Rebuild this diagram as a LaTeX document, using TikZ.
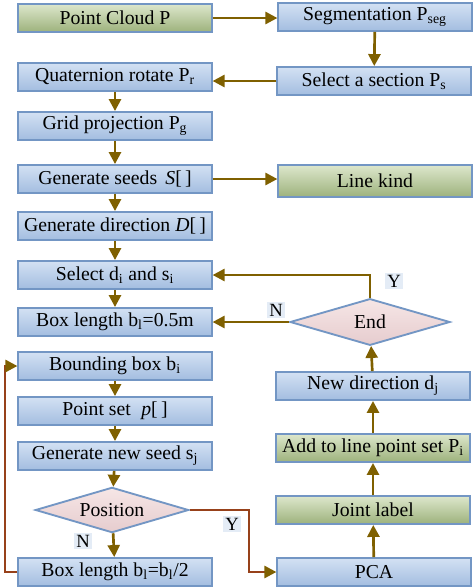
\documentclass[tikz,border=0pt]{standalone}
\usepackage{xcolor}
\usepackage{tikz}
\usetikzlibrary{arrows.meta,shapes.geometric}
\usepackage{fontspec}
\setmainfont{Liberation Serif}
\definecolor{edgeblu}{HTML}{7396C4}
\definecolor{boxtop}{HTML}{D3E1F3}
\definecolor{boxbot}{HTML}{A3BDE0}
\definecolor{grntop}{HTML}{DDE7CC}
\definecolor{grnbot}{HTML}{9DB27C}
\definecolor{pinktop}{HTML}{F6E6E6}
\definecolor{pinkbot}{HTML}{E6CCCE}
\definecolor{olive}{HTML}{7F6000}
\definecolor{rust}{HTML}{97411A}
\definecolor{tagblu}{HTML}{E4ECF6}

\tikzset{
  box/.style={draw=edgeblu, line width=1.4pt, top color=boxtop, bottom color=boxbot,
    minimum width=145pt, minimum height=21pt, inner sep=1pt,
    font=\fontsize{14.8}{16}\selectfont},
  grnbox/.style={box, top color=grntop, bottom color=grnbot},
  decide/.style={diamond, draw=edgeblu, line width=1.4pt, top color=pinktop, bottom color=pinkbot,
    aspect=3.4, inner sep=0pt, font=\fontsize{14.8}{16}\selectfont},
  arr/.style={olive, line width=2pt, -{Triangle[length=9pt,width=9pt]}},
  backln/.style={rust, line width=2pt, -{Triangle[length=9pt,width=9pt,color=olive]}},
  tag/.style={fill=tagblu, inner sep=1.5pt, font=\fontsize{14}{15}\selectfont}
}

\begin{document}
\begin{tikzpicture}[x=0.75pt, y=-0.75pt]
  \useasboundingbox (0,0) rectangle (474,587);
  % Left column
  \node[grnbox] (pc) at (115,18) {Point Cloud P};
  \node[box] (quat) at (115,77) {Quaternion rotate P\textsubscript{r}};
  \node[box] (grid) at (115,126) {Grid projection P\textsubscript{g}};
  \node[box] (seeds) at (115,179) {Generate seeds \,\textit{S}[\,]};
  \node[box] (dir) at (115,226) {Generate direction \textit{D}[\,]};
  \node[box] (sel) at (115,275) {Select d\textsubscript{i} and s\textsubscript{i}};
  \node[box] (blen) at (115,322) {Box length b\textsubscript{l}=0.5m};
  \node[box] (bbox) at (115,366) {Bounding box b\textsubscript{i}};
  \node[box] (pset) at (115,411) {Point set \;\textit{p}[\,]};
  \node[box] (nseed) at (115,456) {Generate new seed s\textsubscript{j}};
  \node[decide, minimum width=115pt, minimum height=34pt] (pos) at (112,510) {Position};
  \node[box] (half) at (115,572) {Box length b\textsubscript{l}=b\textsubscript{l}/2};
  % Right column
  \node[box] (seg) at (375,17) {Segmentation P\textsubscript{seg}};
  \node[box] (sec) at (374,81) {Select a section P\textsubscript{s}};
  \node[grnbox, minimum height=24pt] (kind) at (375,181) {Line kind};
  \node[decide, minimum width=120pt, minimum height=35pt] (endd) at (370,322) {End};
  \node[box] (ndir) at (373,386) {New direction d\textsubscript{j}};
  \node[grnbox] (addp) at (373,448) {Add to line point set P\textsubscript{i}};
  \node[grnbox] (joint) at (373,510) {Joint label};
  \node[box] (pca) at (374,572) {PCA};
  % Main flow
  \draw[arr] (pc.east) -- (pc.east -| seg.west);
  \draw[arr] (seg) -- (sec);
  \draw[arr] (sec.west) -- (sec.west -| quat.east);
  \draw[arr] (quat) -- (grid);
  \draw[arr] (grid) -- (seeds);
  \draw[arr] (seeds.east) -- (seeds.east -| kind.west);
  \draw[arr] (seeds) -- (dir);
  \draw[arr] (dir) -- (sel);
  \draw[arr] (sel) -- (blen);
  \draw[arr] (bbox) -- (pset);
  \draw[arr] (pset) -- (nseed);
  \draw[arr] (nseed) -- (pos);
  \draw[arr] (pos) -- (half);
  \node[tag] (npos) at (83,541) {N};
  % Back loops
  \coordinate (lft) at (5,572);
  \draw[backln] (half.west) -- (lft) |- (bbox.west);
  \coordinate (yturn) at (249,510);
  \draw[backln] (pos.east) -- (yturn) |- (pca.west);
  \node[tag] (ypos) at (232,524) {Y};
  % Right column upward
  \draw[arr] (pca) -- (joint);
  \draw[arr] (joint) -- (addp);
  \draw[arr] (addp) -- (ndir);
  \draw[arr] (ndir) -- (endd);
  \draw[arr] (endd.north) |- (sel.east);
  \node[tag] (yend) at (394,281) {Y};
  \draw[arr] (endd.west) -- (endd.west -| blen.east);
  \node[tag] (nend) at (276,310) {N};
\end{tikzpicture}
\end{document}
